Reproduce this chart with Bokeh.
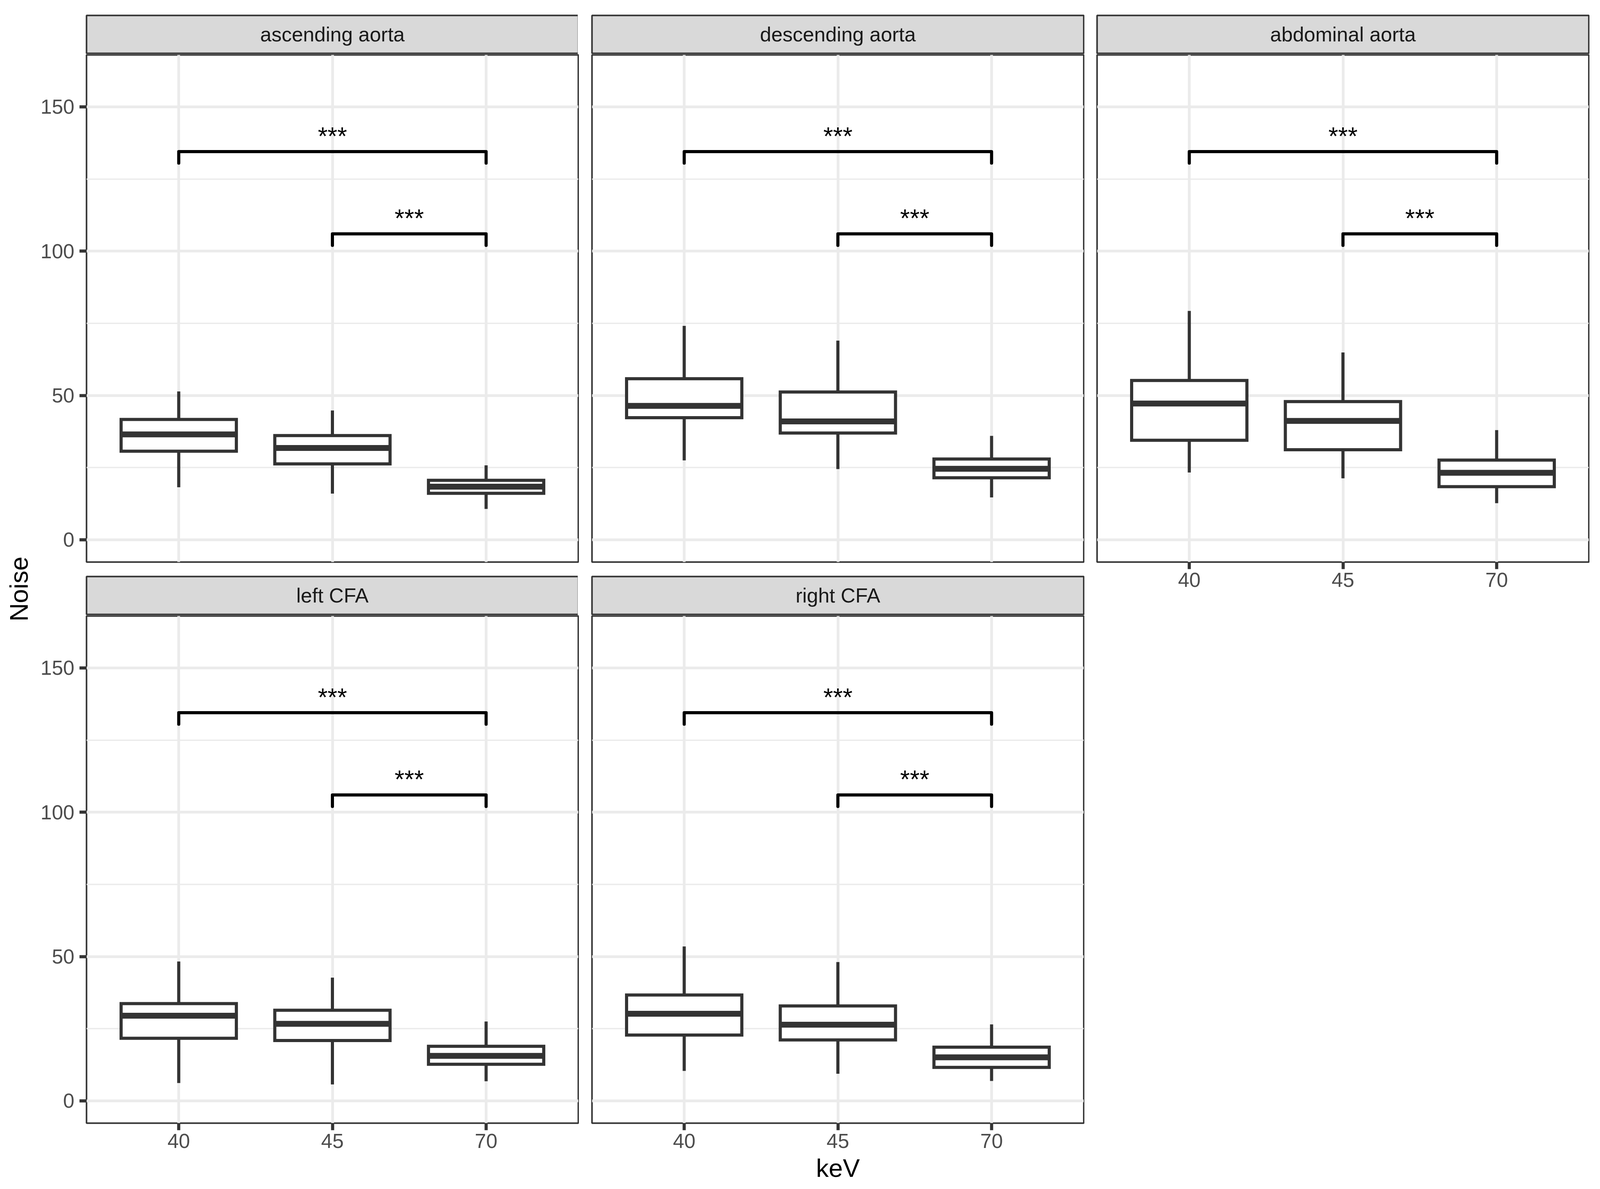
import math
from bokeh.plotting import figure
from bokeh.models import Range1d, FixedTicker, LinearAxis, ColumnDataSource
from bokeh.layouts import row, column
from bokeh.embed import file_html
from bokeh.resources import INLINE
from bokeh.core.properties import value

# ---------------- data ----------------
regions = ["ascending aorta", "descending aorta", "abdominal aorta", "left CFA", "right CFA"]
kev_labels = ["40", "45", "70"]
kev_pos = [1, 2, 3]

y_ticks = [0, 50, 100, 150]
y_minor = [25, 75, 125]

# box statistics per region, one value per keV level (40, 45, 70)
asc_lower = [18.2, 16.0, 10.7]
asc_q1 = [30.7, 26.3, 16.1]
asc_median = [36.5, 31.8, 18.4]
asc_q3 = [41.7, 36.1, 20.6]
asc_upper = [51.4, 44.8, 25.8]

desc_lower = [27.5, 24.5, 14.7]
desc_q1 = [42.3, 37.0, 21.5]
desc_median = [46.4, 41.0, 24.6]
desc_q3 = [55.8, 51.2, 28.0]
desc_upper = [74.1, 69.0, 36.0]

abd_lower = [23.3, 21.3, 12.7]
abd_q1 = [34.5, 31.2, 18.4]
abd_median = [47.2, 41.2, 23.2]
abd_q3 = [55.2, 47.9, 27.6]
abd_upper = [79.3, 64.9, 38.0]

lcfa_lower = [6.2, 5.7, 6.8]
lcfa_q1 = [21.7, 20.9, 12.7]
lcfa_median = [29.5, 26.7, 15.6]
lcfa_q3 = [33.7, 31.4, 18.9]
lcfa_upper = [48.3, 42.7, 27.5]

rcfa_lower = [10.4, 9.4, 6.9]
rcfa_q1 = [22.8, 21.1, 11.6]
rcfa_median = [30.2, 26.4, 15.1]
rcfa_q3 = [36.7, 32.9, 18.6]
rcfa_upper = [53.5, 48.1, 26.5]

# significance brackets (same in every panel)
bracket_from = ["40", "45"]
bracket_to = ["70", "70"]
bracket_y = [134.5, 106.0]
bracket_label = ["***", "***"]

stats = {
    "ascending aorta": (asc_lower, asc_q1, asc_median, asc_q3, asc_upper),
    "descending aorta": (desc_lower, desc_q1, desc_median, desc_q3, desc_upper),
    "abdominal aorta": (abd_lower, abd_q1, abd_median, abd_q3, abd_upper),
    "left CFA": (lcfa_lower, lcfa_q1, lcfa_median, lcfa_q3, lcfa_upper),
    "right CFA": (rcfa_lower, rcfa_q1, rcfa_median, rcfa_q3, rcfa_upper),
}

# ---------------- style / layout ----------------
FONT = "Liberation Sans"
FW = 1259        # panel frame width
PH = 1298        # panel frame height
SH = 97          # strip frame height
Y_START, Y_END = -7.72, 168.0
X_START, X_END = 0.4, 3.6
BOX_HALF = 0.375
TIP = 4.0
LABEL_GAP = 5.3
BOX_COLOR = "#333333"
BORDER = "#333333"
GRID = "#EBEBEB"
STRIP_FILL = "#D9D9D9"
TICK_TEXT = "#4D4D4D"
NOISE_W = 100
LEFT_MB = 118
GAP_MB = 33


def style_axis(ax):
    ax.major_label_text_font = FONT
    ax.major_label_text_font_size = "52px"
    ax.major_label_text_color = TICK_TEXT
    ax.major_tick_line_color = BORDER
    ax.major_tick_line_width = 8
    ax.major_tick_out = 18
    ax.major_tick_in = 0
    ax.minor_tick_line_color = None
    ax.axis_line_color = None


def make_strip(name, mb_top, mb_left):
    s = figure(x_range=Range1d(0, 1), y_range=Range1d(0, 1),
               frame_width=FW, frame_height=SH,
               x_axis_location=None, y_axis_location=None,
               min_border_left=mb_left, min_border_right=2,
               min_border_top=mb_top, min_border_bottom=2,
               background_fill_color=STRIP_FILL, border_fill_color="white",
               outline_line_color=BORDER, outline_line_width=4,
               output_backend="svg", toolbar_location=None)
    s.grid.visible = False
    s.text(x=[0.5], y=[0.5], text=[name], text_align="center", text_baseline="middle",
           text_font=value(FONT), text_font_size="52px", text_color="#1A1A1A")
    return s


def make_panel(name, mb_left, mb_bottom, show_y, show_x, xlabel=None):
    p = figure(x_range=Range1d(X_START, X_END), y_range=Range1d(Y_START, Y_END),
               frame_width=FW, frame_height=PH,
               x_axis_location=None, y_axis_location=None,
               min_border_left=mb_left, min_border_right=2,
               min_border_top=2, min_border_bottom=mb_bottom,
               background_fill_color="white", border_fill_color="white",
               outline_line_color=BORDER, outline_line_width=4,
               output_backend="svg", toolbar_location=None)
    p.xgrid.ticker = FixedTicker(ticks=kev_pos)
    p.xgrid.grid_line_color = GRID
    p.xgrid.grid_line_width = 7
    p.ygrid.ticker = FixedTicker(ticks=y_ticks, minor_ticks=y_minor)
    p.ygrid.grid_line_color = GRID
    p.ygrid.grid_line_width = 7
    p.ygrid.minor_grid_line_color = GRID
    p.ygrid.minor_grid_line_width = 3.5

    if show_y:
        ay = LinearAxis(ticker=FixedTicker(ticks=y_ticks))
        style_axis(ay)
        ay.major_label_standoff = 13
        p.add_layout(ay, "left")
    if show_x:
        ax = LinearAxis(ticker=FixedTicker(ticks=kev_pos),
                        major_label_overrides={k: v for k, v in zip(kev_pos, kev_labels)})
        style_axis(ax)
        ax.major_label_standoff = 9
        if xlabel:
            ax.axis_label = xlabel
            ax.axis_label_text_font = FONT
            ax.axis_label_text_font_size = "65px"
            ax.axis_label_text_font_style = "normal"
            ax.axis_label_text_color = "black"
            ax.axis_label_standoff = 12
        p.add_layout(ax, "below")

    lower, q1, med, q3, upper = stats[name]
    src = ColumnDataSource(dict(
        x=kev_pos,
        left=[x - BOX_HALF for x in kev_pos],
        right=[x + BOX_HALF for x in kev_pos],
        lower=lower, q1=q1, med=med, q3=q3, upper=upper,
    ))
    p.segment(x0="x", y0="q3", x1="x", y1="upper", source=src,
              line_color=BOX_COLOR, line_width=8)
    p.segment(x0="x", y0="lower", x1="x", y1="q1", source=src,
              line_color=BOX_COLOR, line_width=8)
    p.quad(left="left", right="right", bottom="q1", top="q3", source=src,
           fill_color="white", line_color=BOX_COLOR, line_width=8, line_join="miter")
    p.segment(x0="left", y0="med", x1="right", y1="med", source=src,
              line_color=BOX_COLOR, line_width=15)

    xs, ys, tx, ty = [], [], [], []
    for a, b, yv in zip(bracket_from, bracket_to, bracket_y):
        x1 = kev_pos[kev_labels.index(a)]
        x2 = kev_pos[kev_labels.index(b)]
        xs.append([x1, x1, x2, x2])
        ys.append([yv - TIP, yv, yv, yv - TIP])
        tx.append((x1 + x2) / 2)
        ty.append(yv + LABEL_GAP)
    p.multi_line(xs=xs, ys=ys, line_color="black", line_width=8,
                 line_cap="round", line_join="round")
    p.text(x=tx, y=ty, text=bracket_label, text_align="center", text_baseline="alphabetic",
           text_font=value(FONT), text_font_size="64px", text_color="black")
    return p


# ---------------- build ----------------
s1 = make_strip(regions[0], 39, LEFT_MB)
s2 = make_strip(regions[1], 39, GAP_MB)
s3 = make_strip(regions[2], 39, GAP_MB - 1)
s4 = make_strip(regions[3], 2, LEFT_MB)
s5 = make_strip(regions[4], 2, GAP_MB)

p1 = make_panel(regions[0], LEFT_MB, 35, True, False)
p2 = make_panel(regions[1], GAP_MB, 35, False, False)
p3 = make_panel(regions[2], GAP_MB - 1, 100, False, True)
p4 = make_panel(regions[3], LEFT_MB, 100, True, True)
p5 = make_panel(regions[4], GAP_MB, 140, False, True, xlabel="keV")

NOISE_H = 2000
nf = figure(x_range=Range1d(0, NOISE_W), y_range=Range1d(0, NOISE_H),
            frame_width=NOISE_W, frame_height=NOISE_H,
            x_axis_location=None, y_axis_location=None,
            min_border_left=0, min_border_right=0, min_border_top=0, min_border_bottom=0,
            outline_line_color=None, background_fill_color="white", border_fill_color="white",
            output_backend="svg", toolbar_location=None)
nf.grid.visible = False
nf.text(x=[48], y=[NOISE_H - 1507], text=["Noise"], angle=math.pi / 2,
        text_align="center", text_baseline="alphabetic",
        text_font=value(FONT), text_font_size="65px", text_color="black")

layout = row(nf, column(s1, p1, s4, p4), column(s2, p2, s5, p5), column(s3, p3))

open("out.html", "w").write(file_html(layout, INLINE))
